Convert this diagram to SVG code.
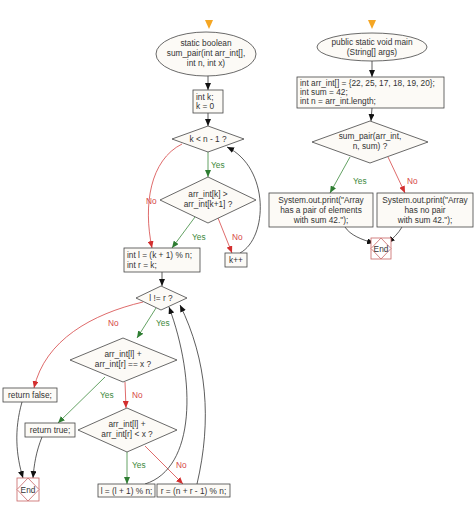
<svg xmlns="http://www.w3.org/2000/svg" width="474" height="509" viewBox="0 0 474 509">
<defs>
<style>
.n{fill:#fcfaf6;stroke:#444;stroke-width:0.8}
.t{font-family:"Liberation Sans",Arial,sans-serif;font-size:8.3px;fill:#333}
.m{text-anchor:middle}
.e{fill:#fff;stroke:#c86464;stroke-width:0.8}
.c{fill:none;stroke:#333;stroke-width:0.8}
.cg{fill:none;stroke:#3c8a3c;stroke-width:0.8}
.cr{fill:none;stroke:#d64545;stroke-width:0.8}
.y{font-family:"Liberation Sans",Arial,sans-serif;font-size:8.3px;fill:#3c8a3c}
.no{font-family:"Liberation Sans",Arial,sans-serif;font-size:8.3px;fill:#d64545}
</style>
<marker id="ak" markerWidth="8" markerHeight="6" refX="7" refY="3" orient="auto" markerUnits="userSpaceOnUse"><path d="M0,0 L7,3 L0,6 z" fill="#111"/></marker>
<marker id="ag" markerWidth="8" markerHeight="6" refX="7" refY="3" orient="auto" markerUnits="userSpaceOnUse"><path d="M0,0 L7,3 L0,6 z" fill="#2e7d32"/></marker>
<marker id="ar" markerWidth="8" markerHeight="6" refX="7" refY="3" orient="auto" markerUnits="userSpaceOnUse"><path d="M0,0 L7,3 L0,6 z" fill="#d32f2f"/></marker>
</defs>

<g id="connectors">
<path d="M205,20 L213,20 L209,29 Z" fill="#f5a623"/>
<path d="M368,20 L376,20 L372,29 Z" fill="#f5a623"/>
<path class="c" d="M208,76 L208,90" marker-end="url(#ak)"/>
<path class="c" d="M208,113 L208,126" marker-end="url(#ak)"/>
<path class="cg" d="M208,152 L208,177" marker-end="url(#ag)"/>
<path class="cr" d="M182,144 C150,160 143,205 152,248" marker-end="url(#ar)"/>
<path class="cg" d="M195,217 L172,248" marker-end="url(#ag)"/>
<path class="cr" d="M218,218 L232,253" marker-end="url(#ar)"/>
<path class="c" d="M240,253 C268,238 270,168 227,147" marker-end="url(#ak)"/>
<path class="c" d="M162,272 L162,286" marker-end="url(#ak)"/>
<path class="cr" d="M143,302 C92,314 45,340 34,388" marker-end="url(#ar)"/>
<path class="cg" d="M156,308 L137,338" marker-end="url(#ag)"/>
<path class="cg" d="M105,377 L58,423" marker-end="url(#ag)"/>
<path class="cr" d="M125,382 L126,408" marker-end="url(#ar)"/>
<path class="cg" d="M127,452 L127,484" marker-end="url(#ag)"/>
<path class="cr" d="M145,446 L183,484" marker-end="url(#ar)"/>
<path class="c" d="M22,402 C14,430 16,455 23,478" marker-end="url(#ak)"/>
<path class="c" d="M42,437 C36,452 34,465 33,478" marker-end="url(#ak)"/>
<path class="c" d="M145,484 C196,468 196,380 169,307" marker-end="url(#ak)"/>
<path class="c" d="M197,484 C212,420 207,360 180,305" marker-end="url(#ak)"/>
<path class="c" d="M372,61 L372,77" marker-end="url(#ak)"/>
<path class="c" d="M372,108 L371,121" marker-end="url(#ak)"/>
<path class="cg" d="M350,157 L330,193" marker-end="url(#ag)"/>
<path class="cr" d="M388,157 L405,193" marker-end="url(#ar)"/>
<path class="c" d="M345,227 C350,235 362,240 374,243" marker-end="url(#ak)"/>
<path class="c" d="M402,227 C398,234 393,238 388,243" marker-end="url(#ak)"/>
<text class="y" x="211" y="168">Yes</text>
<text class="no" x="146" y="204">No</text>
<text class="y" x="192" y="240">Yes</text>
<text class="no" x="232" y="240">No</text>
<text class="no" x="108" y="326">No</text>
<text class="y" x="156" y="326">Yes</text>
<text class="y" x="100" y="398">Yes</text>
<text class="no" x="132" y="398">No</text>
<text class="y" x="132" y="468">Yes</text>
<text class="no" x="176" y="468">No</text>
<text class="y" x="353" y="184">Yes</text>
<text class="no" x="407" y="184">No</text>
</g>

<g id="start_sum_pair">
<ellipse class="n" cx="206" cy="54" rx="50" ry="22"/>
<text class="t m" x="206" y="46">static boolean</text>
<text class="t m" x="206" y="56">sum_pair(int arr_int[],</text>
<text class="t m" x="206" y="66">int n, int x)</text>
</g>
<g id="init_k">
<rect class="n" x="193" y="90" width="30" height="23"/>
<text class="t" x="196" y="100">int k;</text>
<text class="t" x="196" y="109">k = 0</text>
</g>
<g id="cond_k">
<path class="n" d="M172,139 L208,126 L244,139 L208,152 Z"/>
<text class="t m" x="208" y="142">k &lt; n - 1 ?</text>
</g>
<g id="cond_arr">
<path class="n" d="M160,200 L208,177 L256,200 L208,223 Z"/>
<text class="t m" x="208" y="197">arr_int[k] &gt;</text>
<text class="t m" x="208" y="207">arr_int[k+1] ?</text>
</g>
<g id="init_lr">
<rect class="n" x="124" y="248" width="76" height="24"/>
<text class="t" x="127" y="258">int l = (k + 1) % n;</text>
<text class="t" x="127" y="268">int r = k;</text>
</g>
<g id="inc_k">
<rect class="n" x="225" y="253" width="22" height="14"/>
<text class="t m" x="236" y="263">k++</text>
</g>
<g id="cond_lr">
<path class="n" d="M136,298 L161,286 L187,298 L161,310 Z"/>
<text class="t m" x="161" y="301">l != r ?</text>
</g>
<g id="cond_eq">
<path class="n" d="M70,360 L123,338 L177,360 L123,382 Z"/>
<text class="t m" x="123" y="357">arr_int[l] +</text>
<text class="t m" x="123" y="367">arr_int[r] == x ?</text>
</g>
<g id="ret_false">
<rect class="n" x="3" y="388" width="54" height="14"/>
<text class="t m" x="30" y="398">return false;</text>
</g>
<g id="cond_lt">
<path class="n" d="M78,430 L127,408 L177,430 L127,452 Z"/>
<text class="t m" x="127" y="427">arr_int[l] +</text>
<text class="t m" x="127" y="437">arr_int[r] &lt; x ?</text>
</g>
<g id="ret_true">
<rect class="n" x="25" y="423" width="50" height="14"/>
<text class="t m" x="50" y="433">return true;</text>
</g>
<g id="inc_l">
<rect class="n" x="98" y="484" width="57" height="13"/>
<text class="t m" x="126.5" y="493.5">l = (l + 1) % n;</text>
</g>
<g id="dec_r">
<rect class="n" x="157" y="484" width="73" height="13"/>
<text class="t m" x="193.5" y="493.5">r = (n + r - 1) % n;</text>
</g>
<g id="end_left">
<rect class="e" x="17" y="478" width="22" height="23"/>
<path class="e" d="M17,489.5 L28,478 L39,489.5 L28,501 Z"/>
<text class="t m" x="28" y="492.5">End</text>
</g>

<g id="start_main">
<ellipse class="n" cx="372" cy="47" rx="55" ry="14"/>
<text class="t m" x="372" y="45">public static void main</text>
<text class="t m" x="372" y="55">(String[] args)</text>
</g>
<g id="init_main">
<rect class="n" x="297" y="77" width="147" height="31"/>
<text class="t" x="300" y="86">int arr_int[] = {22, 25, 17, 18, 19, 20};</text>
<text class="t" x="300" y="95">int sum = 42;</text>
<text class="t" x="300" y="104">int n = arr_int.length;</text>
</g>
<g id="cond_main">
<path class="n" d="M312,142 L370,121 L428,142 L370,163 Z"/>
<text class="t m" x="370" y="139">sum_pair(arr_int,</text>
<text class="t m" x="370" y="149">n, sum) ?</text>
</g>
<g id="print_yes">
<rect class="n" x="269" y="193" width="104" height="34"/>
<text class="t m" x="321" y="203">System.out.print("Array</text>
<text class="t m" x="321" y="213">has a pair of elements</text>
<text class="t m" x="321" y="223">with sum 42.");</text>
</g>
<g id="print_no">
<rect class="n" x="377" y="193" width="96" height="34"/>
<text class="t m" x="425" y="203">System.out.print("Array</text>
<text class="t m" x="425" y="213">has no pair</text>
<text class="t m" x="425" y="223">with sum 42.");</text>
</g>
<g id="end_right">
<rect class="e" x="371" y="238" width="20" height="21"/>
<path class="e" d="M371,248.5 L381,238 L391,248.5 L381,259 Z"/>
<text class="t m" x="381" y="251.5">End</text>
</g>
</svg>
